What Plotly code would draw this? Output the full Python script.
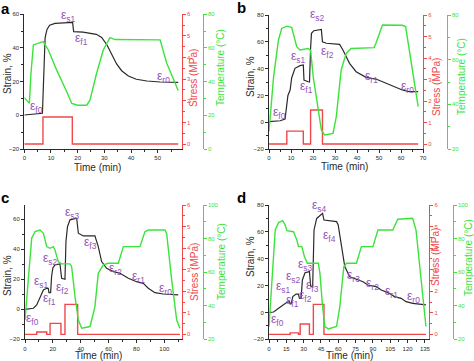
import plotly.graph_objects as go

W, H = 474, 361

# ---------------- Panel a ----------------
strain_a_t = [0, 6.8, 7.1, 7.4, 7.8, 8.5, 9.5, 11.5, 15, 18.1, 18.5, 22, 27, 29, 31, 32.8, 34.6, 36.5, 39, 42, 46, 51, 57.7]
strain_a = [0.2, 1.2, 15, 35, 46, 51, 53.5, 54.6, 54.9, 55.2, 49.7, 49.4, 48.1, 46.3, 41.8, 35.8, 30.5, 26.5, 23.4, 21.4, 20.4, 19.8, 19.6]
temp_a_t = [0, 1.9, 2.5, 3.4, 5.9, 7.1, 9, 12.1, 15.9, 17.8, 20, 23.4, 24.6, 27.1, 29.6, 32.1, 34, 40, 50.9, 53.4, 55.9, 57.7]
temp_a = [30.5, 27.1, 45, 61.8, 63.2, 63.8, 58.8, 47, 34, 27, 26, 26, 29, 45, 58.8, 66.1, 65, 64.8, 64.8, 50.9, 41, 34.7]
stress_a_t = [0, 7, 18, 57.7]
stress_a = [0, 1.25, 0, 0]
labels_a = ["f0", "s1", "f1", "r0"]
labels_a_t = [4.6, 16.5, 21.3, 52.1]
labels_a_y = [4.8, 59.2, 45.1, 22.6]

# ---------------- Panel b ----------------
strain_b_t = [0, 5.1, 7.3, 8.1, 8.6, 9.6, 10.3, 11.8, 14.1, 15.6, 15.9, 17.8, 18.4, 18.9, 19.3, 20.4, 23.8, 24.3, 26.1, 32.1,
              33.6, 36.6, 39.6, 44.1, 48.6, 51.6, 56.1, 60.6, 63.6, 67.8]
strain_b = [0.4, 1.1, 2.4, 12, 20, 24, 33, 40.2, 42.2, 42.7, 31.5, 30.2, 30, 55, 66.3, 68.3, 69.3, 60, 58.9, 58.1,
            53.9, 43.9, 37.7, 33.5, 32.2, 30.2, 27, 24, 22.8, 22.8]
temp_b_t = [0, 2.1, 4.3, 5.8, 8.1, 10.3, 12.6, 14.1, 17.8, 18.9, 20.1, 22.3, 23.8, 25.3, 29.1, 30.6, 32.8, 35.1, 37.3,
            47.8, 48.6, 51.6, 60.6, 62.1, 64.3, 66.6, 67.8]
temp_b = [28, 52.4, 68.8, 74, 75, 74.5, 65.8, 64.3, 65, 64.3, 52.4, 37.5, 28.5, 26.3, 27, 34.5, 55.4, 62.8, 65,
          65.4, 67.3, 75.5, 75.4, 74.8, 61.3, 46.4, 39]
stress_b_t = [0, 8.1, 15.6, 18.9, 24.3, 67.8]
stress_b = [0, 0.6, 0, 1.58, 0, 0]
labels_b = ["f0", "s1", "f1", "s2", "f2", "r1", "r0"]
labels_b_t = [4.8, 13.3, 17.1, 22, 26.8, 46.8, 62.8]
labels_b_y = [6.6, 48.4, 26, 80, 52.6, 34, 26]

# ---------------- Panel c ----------------
strain_c_t = [0, 6, 8.4, 10.8, 13.2, 15.6, 16.7, 17.2, 18.4, 19.1, 20, 21.5, 25.1, 26.3, 28.7, 29.4, 30.5, 32.3, 37.1, 38.3,
              41.9, 50.2, 52.6, 55, 58.6, 63.4, 68.2, 74.2, 80.1, 84.9, 88.5, 93.3, 99.3, 110]
strain_c = [0, 0.7, 2.9, 8.4, 12.9, 14, 14, 11.1, 11.1, 22, 27.5, 29.6, 30.2, 20.7, 20, 45, 55, 59.6, 60.7, 50.7,
            48.9, 48.9, 41.8, 31.8, 27.3, 25.1, 24, 20.7, 18.4, 17.3, 14, 11.1, 10.2, 9.6]
temp_c_t = [0, 2.4, 4.8, 7.2, 10.8, 13.2, 15.6, 17.9, 20.3, 21.5, 23.9, 26.3, 32.3, 33.5, 35.9, 38.3, 40.7, 46.7, 50.2,
            52.6, 56.2, 59.8, 67, 70.6, 82.5, 86.1, 88.5, 100.5, 101.7, 105.3, 108.9, 111.2]
temp_c = [31.5, 55.4, 80.2, 84.1, 85.1, 83.1, 75.2, 74.2, 75.2, 73.2, 66.3, 64.9, 64.9, 63.3, 45.4, 31.5, 26.6, 27.6, 39.5,
          59.3, 64.3, 65.3, 65.3, 75.2, 75.2, 84.1, 85.1, 85.1, 83.1, 55.4, 31.5, 26.6]
stress_c_t = [0, 8.4, 15.6, 18, 25.8, 28.7, 37.8, 111.2]
stress_c = [0, 0.11, 0, 0.51, 0, 1.39, 0, 0]
labels_c = ["f0", "s1", "f1", "s2", "f2", "s3", "f3", "r2", "r1", "r0"]
labels_c_t = [5.3, 12, 17.9, 18.4, 27, 34.2, 46.7, 65.3, 81.3, 101]
labels_c_y = [-6.7, 18.4, 7.1, 33.6, 14.4, 64.4, 44, 26.9, 21.3, 13.8]

# ---------------- Panel d ----------------
strain_d_t = [0, 4, 8.3, 12.6, 15.5, 17.8, 18.3, 19.2, 20.6, 23.5, 25.5, 26.4, 27.8, 28.9, 31.2, 35, 36.1, 37.8, 39, 41.3,
              46.4, 47.6, 58.5, 59.9, 62.8, 65.6, 69.9, 75.7, 81.4, 85.7, 92.9, 97.2, 104.3, 108.6, 114.4, 118.7, 124.4, 135.9]
strain_d = [0, 0.3, 3.1, 5.6, 7.5, 8, 6.3, 6.3, 11.8, 13.7, 13.7, 10.5, 10.5, 24.2, 29.6, 30.4, 19.7, 19.2, 61.4, 70,
            73.8, 68.8, 67.6, 65.1, 49, 34.1, 26.6, 24.7, 22.9, 20.4, 19.2, 16.7, 14.2, 11.8, 10.5, 8, 6.8, 5.6]
temp_d_t = [0, 2.6, 5.4, 8.3, 11.8, 14, 15.5, 21.2, 24.1, 25.5, 28.4, 30.7, 33.2, 42.7, 44.1, 46.4, 48.4, 51.3, 58.5,
            61.3, 64.8, 67.1, 75.7, 80, 90, 94.3, 107.2, 111.5, 124.4, 127.3, 133, 135.9]
temp_d = [27.6, 55.4, 85.1, 89.5, 90.7, 88.1, 84.7, 84.1, 79.2, 75.2, 75.2, 69.2, 65.3, 65.3, 59.3, 39.5, 27.6, 26.2, 27.6,
          39.5, 63.3, 65.3, 65.3, 75.2, 75.2, 85.1, 85.1, 91.5, 92.1, 85.1, 45.4, 27.6]
stress_d_t = [0, 18.3, 25.5, 27, 35, 38.4, 47.6, 135.9]
stress_d = [0, 0.07, 0, 0.48, 0, 1.39, 0, 0]
labels_d = ["f0", "s1", "f1", "s2", "f2", "s3", "f3", "s4", "f4", "r3", "r2", "r1", "r0"]
labels_d_t = [7.5, 12.6, 20.6, 21.2, 31.2, 31.2, 37.8, 43.6, 52.7, 73.4, 89.4, 105.8, 125.3]
labels_d_y = [-5.6, 19.2, 8.8, 26.2, 12.5, 35.3, 19.7, 79.5, 56.9, 27.1, 21.2, 15.5, 11.8]

panel_letters = ["a", "b", "c", "d"]

BLACK = "#2a2a2a"
RED = "#F0484A"
GREEN = "#3BE33B"
PURPLE = "#9353B8"
FONT = "Arial, Liberation Sans, sans-serif"


def px(p):
    return p / W


def py(p):
    return 1 - p / H


panels = [
    dict(st=strain_a_t, s=strain_a, tt=temp_a_t, T=temp_a, pt=stress_a_t, p=stress_a,
         lab=labels_a, lt=labels_a_t, ly=labels_a_y,
         xd=(24.3, 181.7), yd=(14.3, 149), xr=[0, 59], sr=[-20, 60], tr=[0, 80], tpos=202.7,
         xdt=10, sdt=20, letter=(5, 9), stitle=(7, 74), ptitle=(194, 78), ttitle=(221, 68), xtitle=(97, 167)),
    dict(st=strain_b_t, s=strain_b, tt=temp_b_t, T=temp_b, pt=stress_b_t, p=stress_b,
         lab=labels_b, lt=labels_b_t, ly=labels_b_y,
         xd=(269, 423), yd=(15, 149), xr=[0, 70], sr=[-20, 80], tr=[20, 80], tpos=446.7,
         xdt=10, sdt=20, letter=(241, 7), stitle=(251, 77), ptitle=(436, 87), ttitle=(462, 77), xtitle=(344, 166)),
    dict(st=strain_c_t, s=strain_c, tt=temp_c_t, T=temp_c, pt=stress_c_t, p=stress_c,
         lab=labels_c, lt=labels_c_t, ly=labels_c_y,
         xd=(25, 181.7), yd=(205, 339.3), xr=[0, 112.5], sr=[-20, 69.5], tr=[20, 100], tpos=202.7,
         xdt=20, sdt=20, letter=(5, 197), stitle=(7, 276), ptitle=(194, 272), ttitle=(221, 262), xtitle=(98, 355)),
    dict(st=strain_d_t, s=strain_d, tt=temp_d_t, T=temp_d, pt=stress_d_t, p=stress_d,
         lab=labels_d, lt=labels_d_t, ly=labels_d_y,
         xd=(269, 429.3), yd=(205, 339.3), xr=[0, 138.8], sr=[-20, 80], tr=[20, 100], tpos=452.7,
         xdt=15, sdt=20, letter=(241, 197), stitle=(250, 257), ptitle=(435, 257), ttitle=(468, 258), xtitle=(349, 355)),
]

fig = go.Figure()
layout = dict(width=W, height=H, margin=dict(l=0, r=0, t=0, b=0, autoexpand=False),
              paper_bgcolor="white", plot_bgcolor="white", showlegend=False,
              font=dict(family=FONT, size=6, color=BLACK))
annotations = []

for i, P in enumerate(panels):
    xi = i + 1
    ys, yp, yt = 3 * i + 1, 3 * i + 2, 3 * i + 3
    xname = "x" if xi == 1 else f"x{xi}"
    yname = lambda n: "y" if n == 1 else f"y{n}"
    xkey = "xaxis" if xi == 1 else f"xaxis{xi}"
    ykey = lambda n: "yaxis" if n == 1 else f"yaxis{n}"

    fig.add_trace(go.Scatter(x=P["pt"], y=P["p"], mode="lines", line=dict(color=RED, width=1.4, shape="hv"),
                             xaxis=xname, yaxis=yname(yp)))
    fig.add_trace(go.Scatter(x=P["tt"], y=P["T"], mode="lines", line=dict(color=GREEN, width=1.4),
                             xaxis=xname, yaxis=yname(yt)))
    fig.add_trace(go.Scatter(x=P["st"], y=P["s"], mode="lines", line=dict(color=BLACK, width=1.2),
                             xaxis=xname, yaxis=yname(ys)))

    layout[xkey] = dict(domain=[px(P["xd"][0]), px(P["xd"][1])], range=P["xr"], anchor=yname(ys),
                        showline=True, linecolor=BLACK, linewidth=1, ticks="outside", ticklen=3,
                        tickcolor=BLACK, dtick=P["xdt"], tick0=0, showgrid=False, zeroline=False,
                        tickfont=dict(family=FONT, size=6, color=BLACK),
                        minor=dict(ticks="outside", ticklen=2, dtick=P["xdt"] / 2, tickcolor=BLACK))
    layout[ykey(ys)] = dict(domain=[py(P["yd"][1]), py(P["yd"][0])], range=P["sr"], anchor=xname,
                            showline=True, linecolor=BLACK, linewidth=1, ticks="outside", ticklen=3,
                            tickcolor=BLACK, dtick=P["sdt"], tick0=0, showgrid=False, zeroline=False,
                            tickfont=dict(family=FONT, size=6, color=BLACK),
                            minor=dict(ticks="outside", ticklen=2, dtick=P["sdt"] / 2, tickcolor=BLACK))
    layout[ykey(yp)] = dict(overlaying=yname(ys), anchor=xname, side="right", range=[-0.23, 6],
                            showline=True, linecolor=RED, linewidth=1, ticks="outside", ticklen=3,
                            tickcolor=RED, dtick=1, tick0=0, showgrid=False, zeroline=False,
                            tickfont=dict(family=FONT, size=6, color=RED),
                            minor=dict(ticks="outside", ticklen=2, dtick=0.5, tickcolor=RED))
    layout[ykey(yt)] = dict(overlaying=yname(ys), anchor="free", position=px(P["tpos"]), side="right",
                            range=P["tr"], showline=True, linecolor=GREEN, linewidth=1, ticks="outside",
                            ticklen=3, tickcolor=GREEN, dtick=20, tick0=0, showgrid=False, zeroline=False,
                            tickfont=dict(family=FONT, size=6, color=GREEN),
                            minor=dict(ticks="outside", ticklen=2, dtick=10, tickcolor=GREEN))

    for name, t, v in zip(P["lab"], P["lt"], P["ly"]):
        annotations.append(dict(x=t, y=v, xref=xname, yref=yname(ys), showarrow=False,
                                xanchor="center", yanchor="middle",
                                text=f"ε<sub>{name}</sub>",
                                font=dict(family=FONT, size=12, color=PURPLE)))

    def title(pos, text, color, angle=0, size=10):
        annotations.append(dict(x=px(pos[0]), y=py(pos[1]), xref="paper", yref="paper",
                                xanchor="center", yanchor="middle",
                                text=text, textangle=angle, showarrow=False,
                                font=dict(family=FONT, size=size, color=color)))

    title(P["stitle"], "Strain, %", BLACK, -90)
    title(P["ptitle"], "Stress (MPa)", RED, -90)
    title(P["ttitle"], "Temperature (°C)", GREEN, -90)
    title(P["xtitle"], "Time (min)", BLACK, 0)
    title(P["letter"], f"<b>{panel_letters[i]}</b>", "black", 0, 15)

layout["annotations"] = annotations
fig.update_layout(**layout)
fig.write_html("out.html", config={"displayModeBar": False},
               post_script="document.body.style.margin='0px';document.body.style.overflow='hidden';")
